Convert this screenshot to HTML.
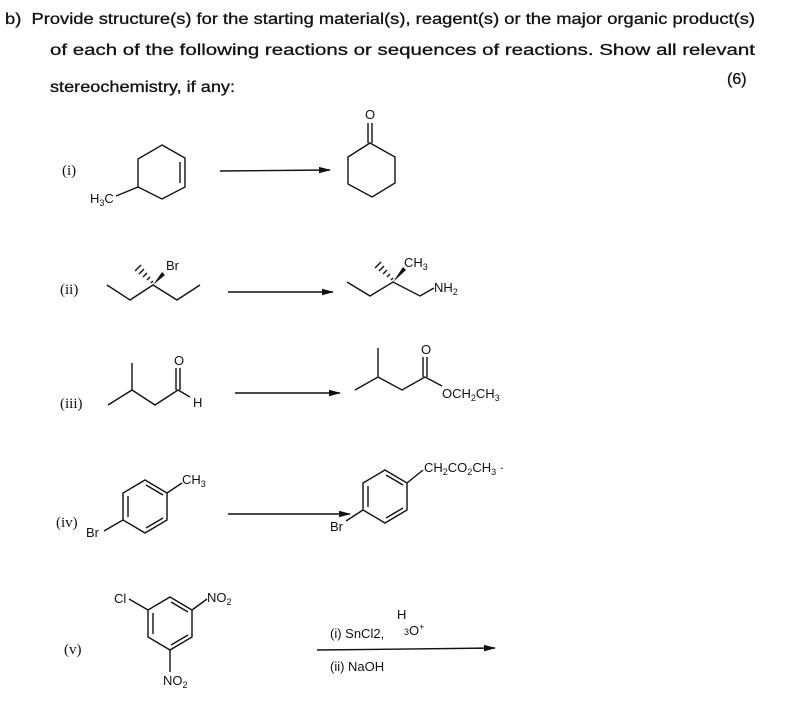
<!DOCTYPE html>
<html><head><meta charset="utf-8"><style>
body{margin:0;background:#fff;width:805px;height:713px;overflow:hidden}
svg{display:block}
.h{font-family:"Liberation Sans",Arial,sans-serif;font-size:16px;fill:#111;stroke:#111;stroke-width:0.3}
.s{font-family:"Liberation Sans",Arial,sans-serif;font-size:13px;fill:#111}
.r{font-family:"Liberation Serif",serif;font-size:15px;fill:#111}
line,polyline,polygon.o{stroke:#111;stroke-width:1.4;fill:none}
</style></head><body>
<svg width="805" height="713" viewBox="0 0 805 713" xmlns="http://www.w3.org/2000/svg">
<defs><marker id="a" markerWidth="12" markerHeight="8" refX="11" refY="4" orient="auto" markerUnits="userSpaceOnUse"><path d="M0,0.8 L12,4 L0,7.2 z" fill="#111"/></marker></defs>
<text class="h" x="5" y="24" textLength="750" lengthAdjust="spacingAndGlyphs">b)&#160; Provide structure(s) for the starting material(s), reagent(s) or the major organic product(s)</text>
<text class="h" x="50" y="55" textLength="705" lengthAdjust="spacingAndGlyphs">of each of the following reactions or sequences of reactions. Show all relevant</text>
<text class="h" x="50" y="92" textLength="185" lengthAdjust="spacingAndGlyphs">stereochemistry, if any:</text>
<text class="h" x="727" y="84">(6)</text>

<!-- (i) -->
<text class="r" x="62" y="175">(i)</text>
<polygon class="o" points="162,145 185,158 185,187 162,199 138,187 138,159"/>
<line x1="180" y1="162" x2="180" y2="183"/>
<line x1="138" y1="187" x2="116" y2="196"/>
<text class="s" x="90" y="203">H<tspan font-size="9" dy="3">3</tspan><tspan dy="-3">C</tspan></text>
<line x1="220" y1="171" x2="330" y2="170" marker-end="url(#a)"/>
<polygon class="o" points="370,143 395,157 395,183 372,197 348,184 348,157"/>
<line x1="368" y1="143" x2="368" y2="123"/><line x1="372" y1="143" x2="372" y2="123"/>
<text class="s" x="365" y="119">O</text>

<!-- (ii) -->
<text class="r" x="60" y="294">(ii)</text>
<polyline points="107,285 130,300 153,285 177,300 200,285"/>
<g stroke="#111" stroke-width="1.2">
<line x1="151" y1="283" x2="153" y2="281"/><line x1="147" y1="280" x2="150" y2="277"/><line x1="143" y1="277" x2="147" y2="273"/><line x1="139" y1="274" x2="144" y2="269"/><line x1="135" y1="271" x2="141" y2="265"/></g>
<polygon points="153,285 162,272 165,275" fill="#111"/>
<text class="s" x="166" y="270">Br</text>
<line x1="228" y1="292" x2="333" y2="292" marker-end="url(#a)"/>
<polyline points="347,282 370,296 393,282 420,296 434,288"/>
<g stroke="#111" stroke-width="1.2">
<line x1="391" y1="280" x2="393" y2="278"/><line x1="387" y1="277" x2="390" y2="274"/><line x1="383" y1="274" x2="387" y2="270"/><line x1="379" y1="271" x2="384" y2="266"/><line x1="375" y1="268" x2="381" y2="262"/></g>
<polygon points="393,282 403,267 406,270" fill="#111"/>
<text class="s" x="404" y="267">CH<tspan font-size="9" dy="3">3</tspan></text>
<text class="s" x="434" y="292">NH<tspan font-size="9" dy="3">2</tspan></text>

<!-- (iii) -->
<text class="r" x="60" y="408">(iii)</text>
<polyline points="108,405 132,390 155,405 178,390 190,397"/>
<line x1="132" y1="390" x2="132" y2="363"/>
<line x1="176" y1="390" x2="176" y2="368"/><line x1="180" y1="390" x2="180" y2="368"/>
<text class="s" x="174" y="365">O</text>
<text class="s" x="193" y="407">H</text>
<line x1="235" y1="393" x2="340" y2="393" marker-end="url(#a)"/>
<polyline points="355,390 378,377 402,390 425,377 442,386"/>
<line x1="378" y1="377" x2="378" y2="348"/>
<line x1="423" y1="377" x2="423" y2="357"/><line x1="427" y1="377" x2="427" y2="357"/>
<text class="s" x="421" y="354">O</text>
<text class="s" x="442" y="398">OCH<tspan font-size="9" dy="3">2</tspan><tspan dy="-3">CH</tspan><tspan font-size="9" dy="3">3</tspan></text>

<!-- (iv) -->
<text class="r" x="56" y="527">(iv)</text>
<polygon class="o" points="145,480 167,493 167,520 145,533 123,520 123,493"/>
<line x1="128" y1="496" x2="128" y2="517"/><line x1="146" y1="485" x2="163" y2="495"/><line x1="146" y1="528" x2="163" y2="518"/>
<line x1="167" y1="493" x2="182" y2="483"/>
<text class="s" x="182" y="484">CH<tspan font-size="9" dy="3">3</tspan></text>
<line x1="123" y1="520" x2="104" y2="531"/>
<text class="s" x="86" y="537">Br</text>
<line x1="228" y1="514" x2="350" y2="514" marker-end="url(#a)"/>
<polygon class="o" points="385,470 407,483 407,510 385,523 363,510 363,483"/>
<line x1="368" y1="486" x2="368" y2="507"/><line x1="386" y1="475" x2="403" y2="485"/><line x1="386" y1="518" x2="403" y2="508"/>
<line x1="407" y1="483" x2="423" y2="470"/>
<text class="s" x="424" y="472">CH<tspan font-size="9" dy="3">2</tspan><tspan dy="-3">CO</tspan><tspan font-size="9" dy="3">2</tspan><tspan dy="-3">CH</tspan><tspan font-size="9" dy="3">3</tspan><tspan dy="-3"> ·</tspan></text>
<line x1="363" y1="510" x2="346" y2="521"/>
<text class="s" x="330" y="531">Br</text>

<!-- (v) -->
<text class="r" x="64" y="654">(v)</text>
<polygon class="o" points="170,597 192,610 192,637 170,650 148,637 148,610"/>
<line x1="153" y1="613" x2="153" y2="634"/><line x1="171" y1="602" x2="188" y2="612"/><line x1="171" y1="645" x2="188" y2="635"/>
<line x1="148" y1="610" x2="129" y2="599"/>
<text class="s" x="114" y="603">Cl</text>
<line x1="192" y1="610" x2="207" y2="599"/>
<text class="s" x="207" y="602">NO<tspan font-size="9" dy="3">2</tspan></text>
<line x1="170" y1="650" x2="170" y2="672"/>
<text class="s" x="163" y="685">NO<tspan font-size="9" dy="3">2</tspan></text>
<line x1="317" y1="650" x2="495" y2="648" marker-end="url(#a)"/>
<text class="s" x="330" y="638" font-size="14">(i) SnCl2,</text>
<text class="s" x="397" y="619">H</text>
<text class="s" x="404" y="635"><tspan font-size="9">3</tspan>O<tspan font-size="9" dy="-5">+</tspan></text>
<text class="s" x="330" y="671" font-size="14">(ii) NaOH</text>
</svg>
</body></html>
